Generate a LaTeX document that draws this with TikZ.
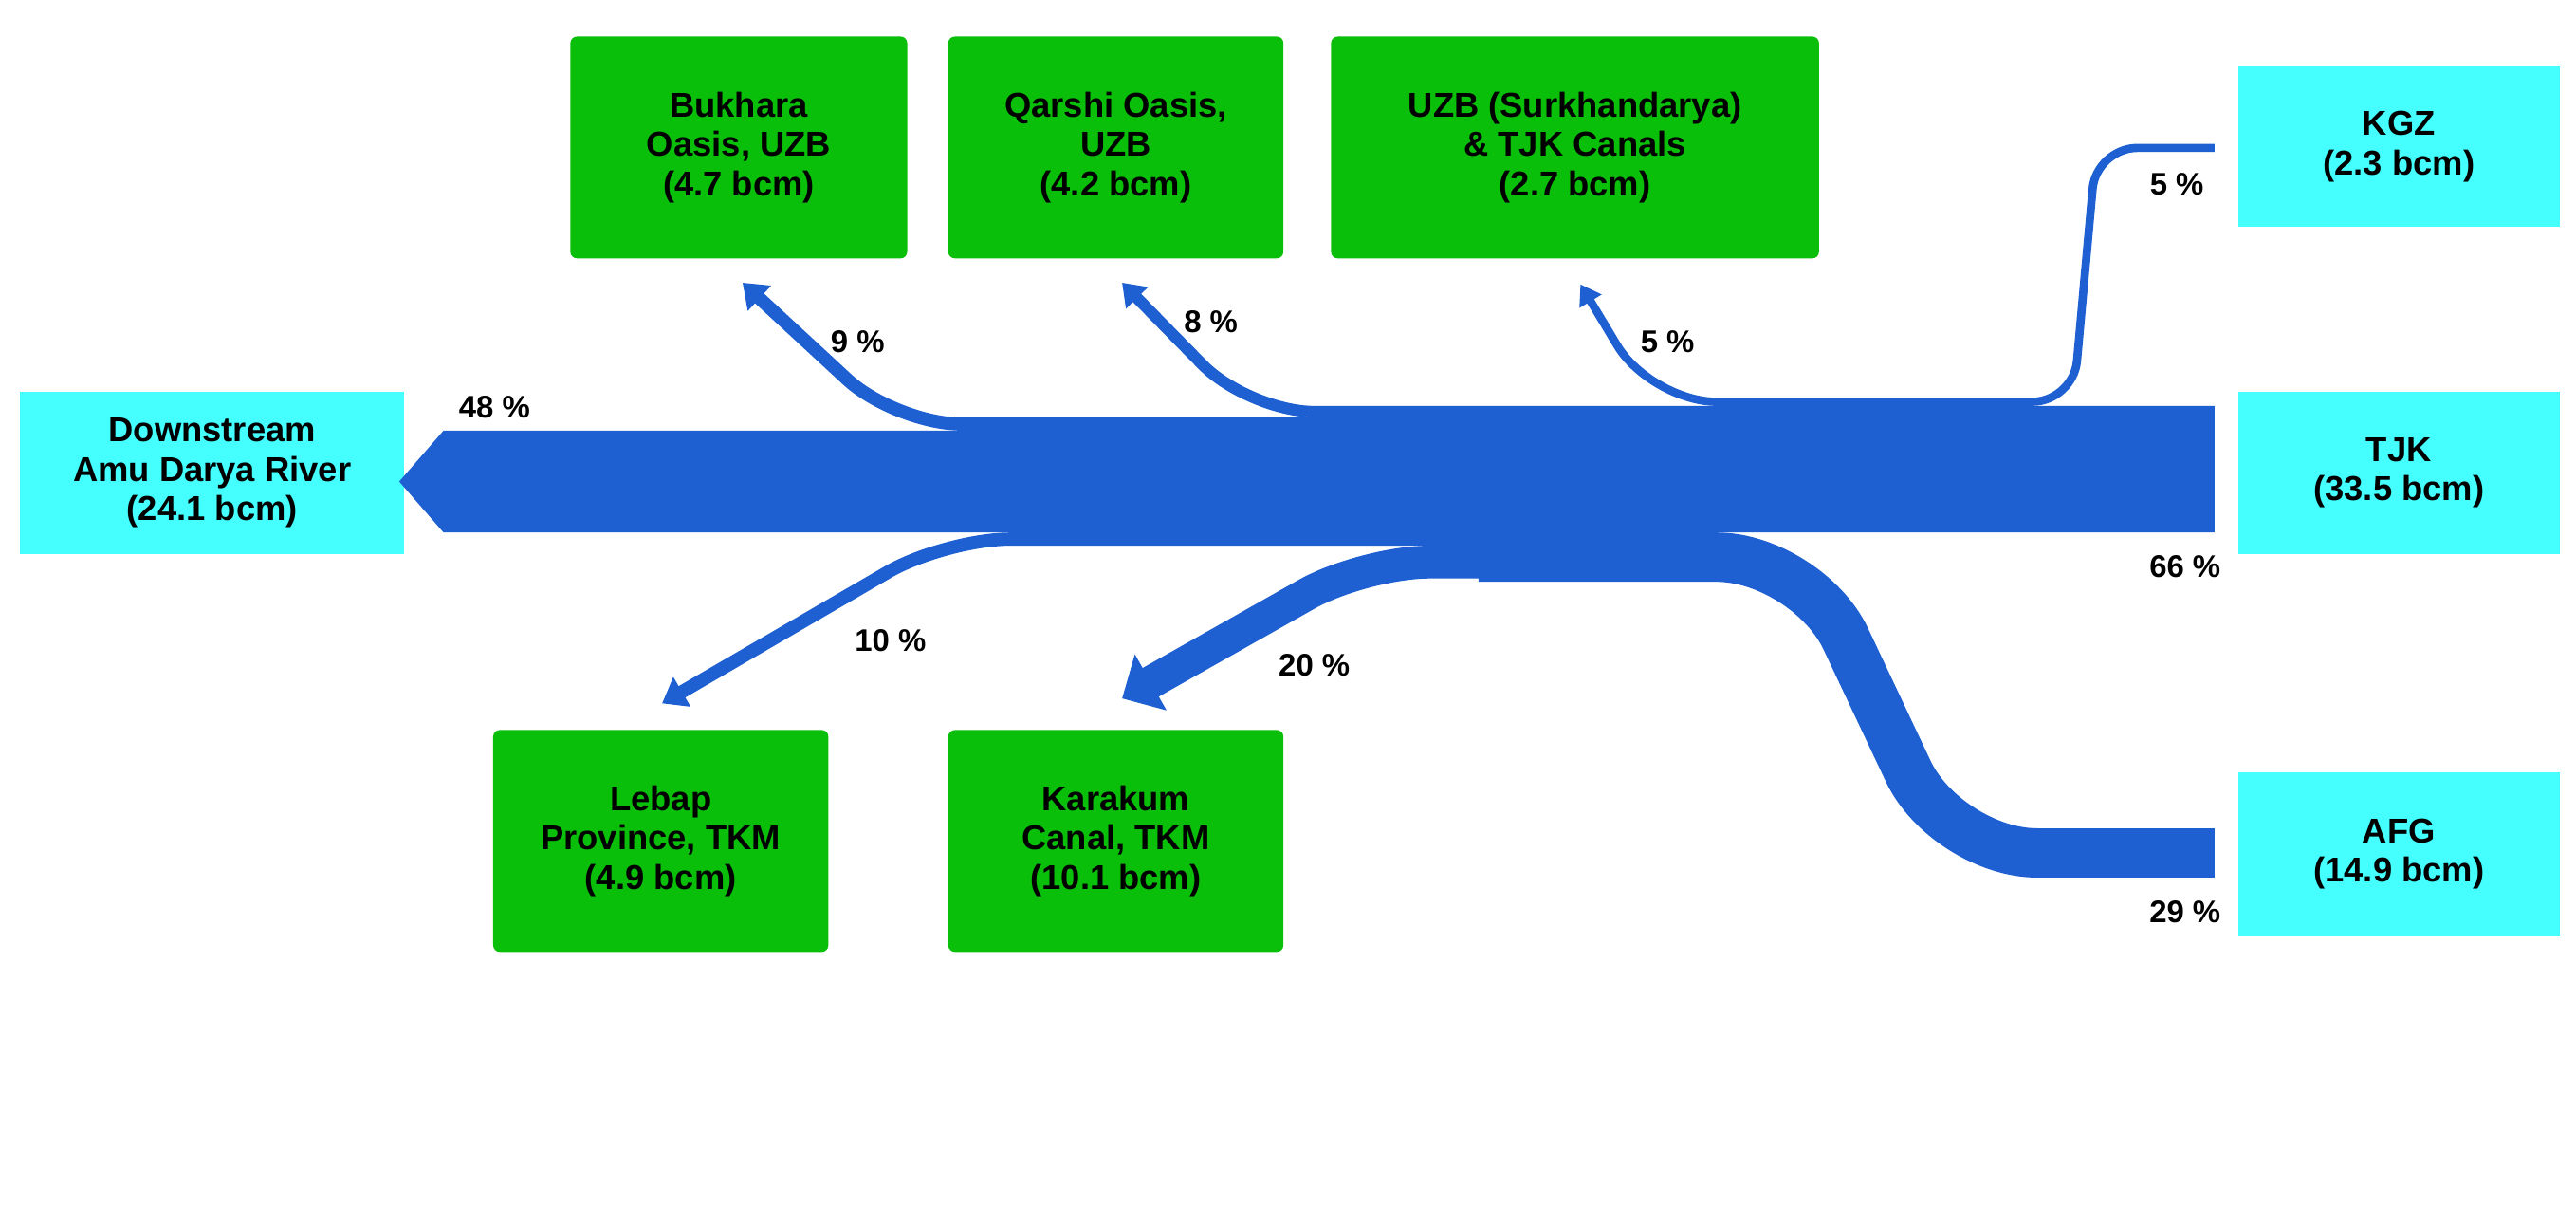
\documentclass[tikz,border=0pt]{standalone}
\usepackage{fontspec}
\setmainfont{Liberation Sans}
\usetikzlibrary{arrows.meta}
\definecolor{cy}{HTML}{45FFFF}
\definecolor{gr}{HTML}{0ABF0A}
\definecolor{fl}{HTML}{1E5FD2}
\tikzset{
 cbox/.style={fill=cy,font=\bfseries\fontsize{21}{24}\selectfont,align=center,anchor=north west,inner sep=0},
 gbox/.style={fill=gr,rounded corners=4pt,font=\bfseries\fontsize{21}{24}\selectfont,align=center,anchor=north west,inner sep=0},
 pct/.style={font=\bfseries\fontsize{19}{22}\selectfont},
 flow/.style={draw=fl,rounded corners=40pt},
}
\begin{document}
\begin{tikzpicture}[x=1pt,y=-1pt]
\useasboundingbox (0,0) rectangle (1568,744);
% boxes
\node[cbox,minimum width=234,minimum height=99] (ds) at (12,238) {Downstream\\Amu Darya River\\(24.1 bcm)};
\node[cbox,minimum width=196,minimum height=99] (tjk) at (1362,238) {TJK\\(33.5 bcm)};
\node[cbox,minimum width=196,minimum height=98] (kgz) at (1362,40) {KGZ\\(2.3 bcm)};
\node[cbox,minimum width=196,minimum height=99] (afg) at (1362,470) {AFG\\(14.9 bcm)};
\node[gbox,minimum width=205,minimum height=135] (bu) at (347,22) {Bukhara\\Oasis, UZB\\(4.7 bcm)};
\node[gbox,minimum width=204,minimum height=135] (qa) at (577,22) {Qarshi Oasis,\\UZB\\(4.2 bcm)};
\node[gbox,minimum width=297,minimum height=135] (uz) at (810,22) {UZB (Surkhandarya)\\\& TJK Canals\\(2.7 bcm)};
\node[gbox,minimum width=204,minimum height=135] (le) at (300,444) {Lebap\\Province, TKM\\(4.9 bcm)};
\node[gbox,minimum width=204,minimum height=135] (ka) at (577,444) {Karakum\\Canal, TKM\\(10.1 bcm)};
% main band
\fill[fl] (243,293)--(270,262)--(1348,262)--(1348,324)--(270,324)--cycle;
% branches (stacked)
\draw[flow,line width=8pt,-{Triangle[length=14pt,width=20pt]}] (1348,258)--(545,258)--(452,172);
\draw[flow,line width=7pt,-{Triangle[length=13pt,width=18pt]}] (1348,250.5)--(760,250.5)--(683,172);
\draw[flow,line width=5pt,-{Triangle[length=12pt,width=15pt]}] (1232,244.5)--(1005,244.5)--(962,173);
\draw[flow,line width=5pt,rounded corners=25pt] (1228,244.5)--(1262,244.5)--(1276,90)--(1348,90);
\draw[flow,line width=8pt,-{Triangle[length=14pt,width=20pt]}] (1000,328)--(575,328)--(403,428);
\draw[flow,line width=20pt,-{Triangle[length=20pt,width=38pt]}] (1000,342)--(830,342)--(683,425);
\draw[flow,line width=30pt,rounded corners=55pt] (900,339)--(1100,339)--(1185,519)--(1348,519);
% labels
\node[pct] at (301,248) {48 \%};
\node[pct] at (522,208) {9 \%};
\node[pct] at (737,196) {8 \%};
\node[pct] at (1015,208) {5 \%};
\node[pct] at (1325,112) {5 \%};
\node[pct] at (1330,345) {66 \%};
\node[pct] at (542,390) {10 \%};
\node[pct] at (800,405) {20 \%};
\node[pct] at (1330,555) {29 \%};
\end{tikzpicture}
\end{document}
